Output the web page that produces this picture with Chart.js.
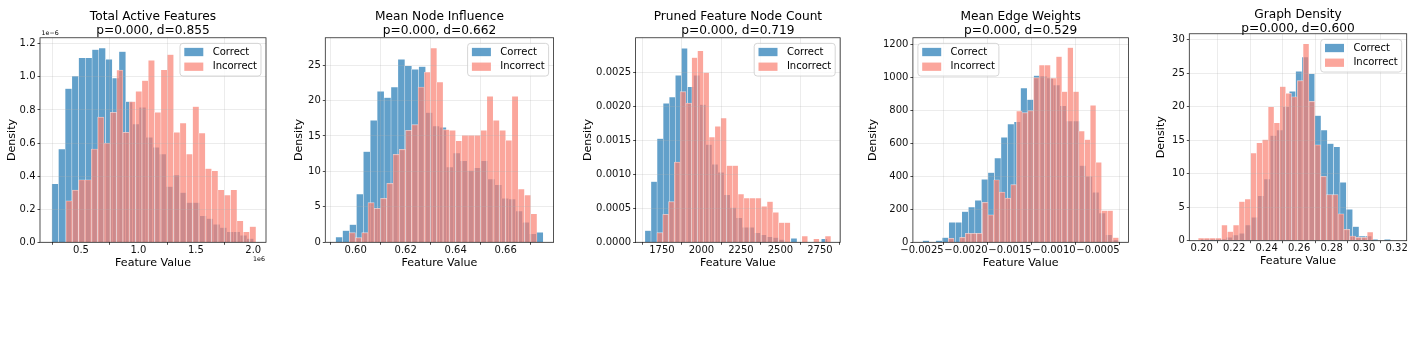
<!DOCTYPE html>
<html>
<head>
<meta charset="utf-8">
<script src="https://cdn.jsdelivr.net/npm/chart.js@4.4.0/dist/chart.umd.min.js"></script>
<style>
  html, body { margin: 0; padding: 0; background: #fff; }
  #wrap { position: relative; width: 1419px; height: 341px; overflow: hidden; }
  #wrap canvas { position: absolute; }
</style>
</head>
<body>
<div id="wrap"></div>
<script>
const FONT = "'DejaVu Sans', sans-serif";
const BLUE = 'rgba(31,119,180,0.7)';
const SALMON = 'rgba(250,128,114,0.7)';
const EDGE = 'rgba(255,255,255,0.7)';

// histogram bins: [first edge, last edge] and 30 densities per group

// Total Active Features (x in 1e6, density in 1e-6)
const activeCorrectRange = [0.245, 2.003];
const activeCorrect = [0.354, 0.564, 0.929, 1.004, 1.115, 1.115, 1.164, 1.174, 1.105, 0.992,
  1.152, 0.85, 0.715, 0.816, 0.634, 0.574, 0.533, 0.337, 0.406, 0.30,
  0.24, 0.24, 0.16, 0.143, 0.109, 0.089, 0.063, 0.063, 0.042, 0.022];
const activeIncorrectRange = [0.369, 2.0235];
const activeIncorrect = [0.25, 0.315, 0.378, 0.378, 0.564, 0.756, 0.60, 0.786, 1.04, 0.665,
  0.85, 0.913, 0.978, 1.10, 0.786, 1.042, 1.135, 0.665, 0.721, 0.533,
  0.82, 0.66, 0.446, 0.432, 0.317, 0.285, 0.317, 0.13, 0.063, 0.095];
const activeXTicks = [0.5, 1.0, 1.5, 2.0];
const activeYTicks = [0, 0.2, 0.4, 0.6, 0.8, 1.0, 1.2];

// Mean Node Influence
const influenceCorrectRange = [0.592, 0.675];
const influenceCorrect = [0.75, 1.65, 2.5, 6.8, 12.8, 17.2, 21.3, 20.4, 21.9, 25.8,
  24.9, 24.4, 24.8, 18.3, 16.4, 16.2, 10.6, 12.6, 11.5, 10.1,
  10.5, 11.5, 8.9, 8.1, 6.2, 6.1, 4.4, 2.8, 1.2, 1.4];
const influenceIncorrectRange = [0.5974, 0.6725];
const influenceIncorrect = [1.37, 0.66, 1.37, 5.6, 4.8, 6.2, 8.3, 12.4, 13.1, 15.8,
  16.6, 21.9, 24.0, 27.4, 22.6, 15.9, 15.8, 14.3, 15.1, 15.1,
  15.1, 15.8, 20.6, 17.2, 15.8, 14.4, 20.6, 7.5, 6.65, 4.0];
const influenceXTicks = [0.60, 0.62, 0.64, 0.66];
const influenceYTicks = [0, 5, 10, 15, 20, 25];

// Pruned Feature Node Count
const prunedCorrectRange = [1642, 2797];
const prunedCorrect = [0.000172, 0.000894, 0.001528, 0.002048, 0.002141, 0.002461, 0.002859, 0.00229, 0.00246, 0.00203,
  0.00144, 0.00115, 0.00103, 0.0007, 0.00051, 0.00036, 0.00022, 0.00022, 0.00014, 0.00011,
  0.00008, 0.00007, 0.00004, 0, 0.00006, 0, 0, 0, 0, 0.00005];
const prunedIncorrectRange = [1718, 2819];
const prunedIncorrect = [0.000142, 0.000413, 0.000599, 0.00118, 0.00222, 0.00205, 0.00272, 0.00282, 0.0025, 0.00155,
  0.00171, 0.00183, 0.00113, 0.00113, 0.00071, 0.00065, 0.00065, 0.00065, 0.00053, 0.0006,
  0.00044, 0.00029, 0.00029, 0, 0, 0.00009, 0, 0.00005, 0, 0.00009];
const prunedXTicks = [1750, 2000, 2250, 2500, 2750];
const prunedYTicks = [0, 0.0005, 0.0010, 0.0015, 0.0020, 0.0025];

// Mean Edge Weights
const edgeCorrectRange = [-0.002492, -0.000266];
const edgeCorrect = [10, 0, 10, 28, 122, 122, 186, 214, 255, 383,
  423, 511, 637, 718, 732, 937, 866, 1012, 1010, 997,
  954, 828, 736, 736, 466, 400, 303, 177, 45, 14];
const edgeIncorrectRange = [-0.002201, -0.000265];
const edgeIncorrect = [24, 0, 30, 55, 55, 55, 242, 167, 380, 305,
  268, 350, 797, 787, 800, 1000, 1076, 1076, 997, 1128,
  915, 1182, 915, 675, 624, 832, 486, 193, 193, 28];
const edgeXTicks = [-0.0025, -0.0020, -0.0015, -0.0010, -0.0005];
const edgeYTicks = [0, 200, 400, 600, 800, 1000, 1200];

// Graph Density
const densityCorrectRange = [0.1994, 0.3163];
const densityCorrect = [0.2, 0.2, 0.2, 0.25, 0.5, 0.85, 1.1, 2.35, 3.5, 6.7,
  9.2, 15.7, 16.5, 20.0, 22.3, 25.3, 27.4, 24.9, 18.7, 16.5,
  14.5, 14.0, 8.7, 4.7, 2.1, 0.7, 0.7, 0.2, 0, 0.2];
const densityIncorrectRange = [0.1979, 0.3055];
const densityIncorrect = [0.4, 0.4, 0.4, 0.4, 2.35, 1.35, 2.35, 5.84, 6.23, 13.1,
  14.6, 15.1, 20.0, 17.6, 23.0, 22.0, 21.5, 23.9, 29.4, 20.8,
  14.3, 9.6, 6.9, 6.9, 4.0, 1.7, 0.7, 0.5, 0.5, 1.3];
const densityXTicks = [0.20, 0.22, 0.24, 0.26, 0.28, 0.30, 0.32];
const densityYTicks = [0, 5, 10, 15, 20, 25, 30];

const minus = s => s.replace('-', '\u2212');

const panels = [
  {
    title: ['Total Active Features', 'p=0.000, d=0.855'],
    correct: activeCorrect, correctRange: activeCorrectRange,
    incorrect: activeIncorrect, incorrectRange: activeIncorrectRange,
    xTicks: activeXTicks, yTicks: activeYTicks,
    xMin: 0.143, xMax: 2.111, yMax: 1.236,
    xFmt: v => v.toFixed(1), yFmt: v => v.toFixed(1),
    legend: 'right', yOffset: '1e\u22126', xOffset: '1e6',
    box: { left: 40, right: 266, bottom: 242.3, ct: 0, ch: 275, dens: 27.5, tTop: 10, tBottom: -0.3 }
  },
  {
    title: ['Mean Node Influence', 'p=0.000, d=0.662'],
    correct: influenceCorrect, correctRange: influenceCorrectRange,
    incorrect: influenceIncorrect, incorrectRange: influenceIncorrectRange,
    xTicks: influenceXTicks, yTicks: influenceYTicks,
    xMin: 0.58785, xMax: 0.67915, yMax: 28.85,
    xFmt: v => v.toFixed(2), yFmt: v => String(v),
    legend: 'right',
    box: { left: 325.3, right: 553.6, bottom: 242.3, ct: 0, ch: 275, dens: 25.8, tTop: 10, tBottom: -0.3 }
  },
  {
    title: ['Pruned Feature Node Count', 'p=0.000, d=0.719'],
    correct: prunedCorrect, correctRange: prunedCorrectRange,
    incorrect: prunedIncorrect, incorrectRange: prunedIncorrectRange,
    xTicks: prunedXTicks, yTicks: prunedYTicks,
    xMin: 1583, xMax: 2878, yMax: 0.003013,
    xFmt: v => String(v), yFmt: v => v.toFixed(4),
    legend: 'right',
    box: { left: 635.6, right: 840.2, bottom: 242.3, ct: 0, ch: 275, dens: 47.6, tTop: 10, tBottom: -0.3 }
  },
  {
    title: ['Mean Edge Weights', 'p=0.000, d=0.529'],
    correct: edgeCorrect, correctRange: edgeCorrectRange,
    incorrect: edgeIncorrect, incorrectRange: edgeIncorrectRange,
    xTicks: edgeXTicks, yTicks: edgeYTicks,
    xMin: -0.002603, xMax: -0.000154, yMax: 1242,
    xFmt: v => minus(v.toFixed(4)), yFmt: v => String(v),
    legend: 'left',
    box: { left: 912.9, right: 1128.4, bottom: 242.3, ct: 0, ch: 275, dens: 39.4, tTop: 10, tBottom: -0.3 }
  },
  {
    title: ['Graph Density', 'p=0.000, d=0.600'],
    correct: densityCorrect, correctRange: densityCorrectRange,
    incorrect: densityIncorrect, incorrectRange: densityIncorrectRange,
    xTicks: densityXTicks, yTicks: densityYTicks,
    xMin: 0.1924, xMax: 0.3262, yMax: 30.9,
    xFmt: v => v.toFixed(2), yFmt: v => String(v),
    legend: 'right',
    box: { left: 1189.3, right: 1406.7, bottom: 240.7, ct: -4, ch: 277, dens: 27.8, tTop: 11.5, tBottom: -1.8 }
  }
];

// bin centres from the edges, one bar per bin
function toBins(values, range) {
  const w = (range[1] - range[0]) / values.length;
  return values.map((v, i) => ({ x: range[0] + (i + 0.5) * w, y: v }));
}

// frame, offset text and legend box drawn over the plot
const panelDeco = {
  id: 'panelDeco',
  afterDraw(chart, args, opts) {
    const { ctx, chartArea: a } = chart;
    ctx.save();
    ctx.strokeStyle = 'rgba(0,0,0,0.85)';
    ctx.lineWidth = 0.8;
    ctx.strokeRect(a.left, a.top, a.right - a.left, a.bottom - a.top);

    ctx.fillStyle = '#000';
    ctx.font = '6.3px ' + FONT;
    if (opts.yOffset) {
      ctx.textAlign = 'left';
      ctx.textBaseline = 'bottom';
      ctx.fillText(opts.yOffset, a.left + 1.5, a.top - 1.2);
    }
    if (opts.xOffset) {
      ctx.textAlign = 'right';
      ctx.textBaseline = 'top';
      ctx.fillText(opts.xOffset, a.right - 1, a.bottom + 14);
    }

    const items = chart.data.datasets.map(d => ({ text: d.label, color: d.backgroundColor }));
    ctx.font = '10px ' + FONT;
    const tw = Math.max(...items.map(it => ctx.measureText(it.text).width));
    const bw = 4.3 + 19 + 9.4 + tw + 4;
    const bh = 32.7;
    const bx = opts.legend === 'left' ? a.left + 5 : a.right - 5 - bw;
    const by = a.top + 5.6;
    ctx.beginPath();
    ctx.roundRect(bx, by, bw, bh, 3);
    ctx.fillStyle = 'rgba(255,255,255,0.8)';
    ctx.fill();
    ctx.strokeStyle = 'rgba(204,204,204,0.8)';
    ctx.lineWidth = 1;
    ctx.stroke();
    items.forEach((it, i) => {
      const cy = by + 8.6 + i * 14.7;
      ctx.fillStyle = it.color;
      ctx.fillRect(bx + 4.3, cy - 4.1, 19, 8.3);
      ctx.fillStyle = '#000';
      ctx.textAlign = 'left';
      ctx.textBaseline = 'middle';
      ctx.fillText(it.text, bx + 4.3 + 19 + 9.4, cy);
    });
    ctx.restore();
  }
};

const wrap = document.getElementById('wrap');

panels.forEach(p => {
  const g = p.box;
  const cl = Math.floor(g.left) - 60;
  const wy = g.left - cl;
  const cw = Math.ceil(g.right - cl) + 14;
  const padRight = cw - (g.right - cl);
  const hx = g.ct + g.ch - g.bottom;

  const canvas = document.createElement('canvas');
  canvas.width = cw;
  canvas.height = g.ch;
  canvas.style.left = cl + 'px';
  canvas.style.top = g.ct + 'px';
  wrap.appendChild(canvas);

  const grid = {
    z: 1,
    color: 'rgba(176,176,176,0.3)',
    lineWidth: 0.8,
    drawTicks: true,
    tickLength: 2.5,
    tickColor: '#222',
    tickWidth: 0.8
  };
  const tickFont = { family: FONT, size: 10, lineHeight: 1 };
  const setTicks = list => s => { s.ticks = list.map(v => ({ value: v })); };

  new Chart(canvas, {
    type: 'bar',
    data: {
      datasets: [
        {
          label: 'Correct',
          data: toBins(p.correct, p.correctRange),
          xAxisID: 'x',
          backgroundColor: BLUE,
          borderColor: EDGE,
          borderWidth: 0.5,
          grouped: false,
          barPercentage: 1,
          categoryPercentage: 1,
          order: 2
        },
        {
          label: 'Incorrect',
          data: toBins(p.incorrect, p.incorrectRange),
          xAxisID: 'x2',
          backgroundColor: SALMON,
          borderColor: EDGE,
          borderWidth: 0.5,
          grouped: false,
          barPercentage: 1,
          categoryPercentage: 1,
          order: 1
        }
      ]
    },
    options: {
      responsive: false,
      animation: false,
      events: [],
      layout: { padding: { left: 0, right: padRight, top: 0, bottom: 0 } },
      plugins: {
        legend: { display: false },
        tooltip: { enabled: false },
        title: {
          display: true,
          fullSize: false,
          text: p.title,
          color: '#000',
          font: { family: FONT, size: 12.2, weight: 'normal', lineHeight: 1.15 },
          padding: { top: g.tTop, bottom: g.tBottom }
        },
        panelDeco: { legend: p.legend, yOffset: p.yOffset, xOffset: p.xOffset }
      },
      scales: {
        x: {
          type: 'linear',
          position: 'bottom',
          min: p.xMin,
          max: p.xMax,
          offset: false,
          grid: grid,
          border: { display: false },
          ticks: { font: tickFont, color: '#111', padding: 0.5, maxRotation: 0, callback: v => p.xFmt(v) },
          title: {
            display: true,
            text: 'Feature Value',
            color: '#000',
            font: { family: FONT, size: 11.1, lineHeight: 1.2 },
            padding: { top: 0, bottom: 5.6 }
          },
          afterBuildTicks: setTicks(p.xTicks),
          afterFit: s => { s.height = hx; }
        },
        x2: {
          type: 'linear',
          position: 'bottom',
          display: false,
          min: p.xMin,
          max: p.xMax,
          offset: false,
          afterBuildTicks: setTicks(p.xTicks)
        },
        y: {
          type: 'linear',
          min: 0,
          max: p.yMax,
          grid: grid,
          border: { display: false },
          ticks: { font: tickFont, color: '#111', padding: 2, callback: v => p.yFmt(v) },
          title: {
            display: true,
            text: 'Density',
            color: '#000',
            font: { family: FONT, size: 11.1, lineHeight: 1.2 },
            padding: { top: wy - g.dens - 6.66, bottom: 0 }
          },
          afterBuildTicks: setTicks(p.yTicks),
          afterFit: s => { s.width = wy; }
        }
      }
    },
    plugins: [panelDeco]
  });
});
</script>
</body>
</html>
